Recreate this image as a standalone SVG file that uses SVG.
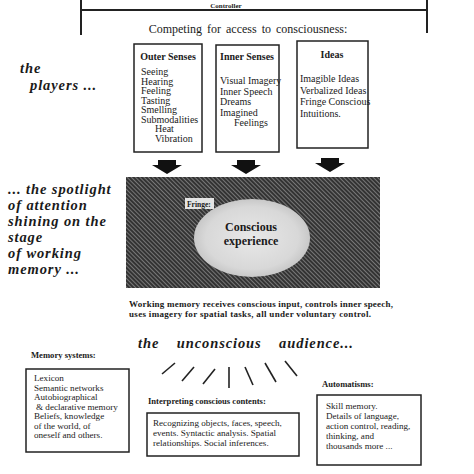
<svg xmlns="http://www.w3.org/2000/svg" width="474" height="474" viewBox="0 0 474 474">
<defs>
<style>
.s{font-family:"Liberation Serif","DejaVu Serif",serif;fill:#1a1a1a}
.b{font-weight:bold}
.bi{font-family:"Liberation Serif","DejaVu Serif",serif;font-weight:bold;font-style:italic;fill:#1a1a1a;font-size:14.5px;letter-spacing:0.9px}
.box{fill:#fff;stroke:#222;stroke-width:1.5}
.t9{font-size:10px}
.t8{font-size:9.1px}
.ray{stroke:#222;stroke-width:1.6;fill:none}
.arr{fill:#111}
</style>
<pattern id="hatch" width="3" height="3" patternUnits="userSpaceOnUse" patternTransform="rotate(-45)">
<rect width="3" height="3" fill="#333"/>
<rect width="1" height="3" fill="#777"/>
</pattern>
<radialGradient id="glow" cx="0.5" cy="0.5" r="0.5">
<stop offset="0" stop-color="#e8e8e8"/>
<stop offset="0.8" stop-color="#d8d8d8"/>
<stop offset="1" stop-color="#c8c8c8"/>
</radialGradient>
</defs>
<rect width="474" height="474" fill="#fff"/>

<g id="controller">
<path d="M81,0 V35 M81,10 H427 M427,0 V33" stroke="#222" stroke-width="2" fill="none"/>
<text class="s b" x="226" y="7.5" font-size="7" text-anchor="middle">Controller</text>
</g>

<g id="competing">
<text class="s" x="248" y="33" font-size="12" text-anchor="middle" word-spacing="2">Competing for access to consciousness:</text>
</g>

<g id="players-label">
<text class="bi" x="20" y="73">the</text>
<text class="bi" x="30" y="90">players ...</text>
</g>

<g id="outer-senses">
<rect class="box" x="134" y="44" width="68" height="108"/>
<text class="s b t9" x="168" y="60" text-anchor="middle">Outer Senses</text>
<text class="s t9" x="141" y="75">Seeing</text>
<text class="s t9" x="141" y="84.5">Hearing</text>
<text class="s t9" x="141" y="94">Feeling</text>
<text class="s t9" x="141" y="103.5">Tasting</text>
<text class="s t9" x="141" y="113">Smelling</text>
<text class="s t9" x="141" y="122.5">Submodalities</text>
<text class="s t9" x="155" y="132">Heat</text>
<text class="s t9" x="155" y="142">Vibration</text>
</g>

<g id="inner-senses">
<rect class="box" x="216" y="45" width="63" height="107"/>
<text class="s b t9" x="247" y="60" text-anchor="middle">Inner Senses</text>
<text class="s t9" x="220" y="84">Visual Imagery</text>
<text class="s t9" x="220" y="94.5">Inner Speech</text>
<text class="s t9" x="220" y="105">Dreams</text>
<text class="s t9" x="220" y="115.5">Imagined</text>
<text class="s t9" x="234" y="126">Feelings</text>
</g>

<g id="ideas">
<rect class="box" x="297" y="41" width="71" height="107"/>
<text class="s b t9" x="332" y="58" text-anchor="middle">Ideas</text>
<text class="s t9" x="300" y="82">Imagible Ideas</text>
<text class="s t9" x="300" y="93.5">Verbalized Ideas</text>
<text class="s t9" x="300" y="105">Fringe Conscious</text>
<text class="s t9" x="300" y="116.5">Intuitions.</text>
</g>

<g id="spotlight-label">
<text class="bi" x="8" y="194">... the spotlight</text>
<text class="bi" x="8" y="210">of attention</text>
<text class="bi" x="8" y="226">shining on the</text>
<text class="bi" x="8" y="242">stage</text>
<text class="bi" x="8" y="258">of working</text>
<text class="bi" x="8" y="274">memory ...</text>
</g>

<g id="working-memory">
<rect x="126" y="177" width="254" height="111" fill="url(#hatch)"/>
</g>

<g id="conscious-experience">
<ellipse cx="252" cy="238" rx="58" ry="39" fill="url(#glow)"/>
<text class="s b" x="251" y="231" font-size="12" text-anchor="middle">Conscious</text>
<text class="s b" x="251" y="245" font-size="12" text-anchor="middle">experience</text>
</g>

<g id="fringe">
<rect x="185" y="198" width="29" height="11" fill="#e4e4e4"/>
<text class="s b" x="187" y="206.5" font-size="7.5">Fringe:</text>
</g>

<g id="working-memory-caption">
<text class="s b" x="129" y="307" font-size="9" textLength="264" lengthAdjust="spacing">Working memory receives conscious input, controls inner speech,</text>
<text class="s b" x="129" y="316.5" font-size="9" textLength="242" lengthAdjust="spacing">uses imagery for spatial tasks, all under voluntary control.</text>
</g>

<g id="audience-label">
<text class="bi" x="138" y="348" word-spacing="13">the unconscious audience...</text>
</g>

<g id="memory-systems">
<text class="s b" x="31" y="358" font-size="8.6">Memory systems:</text>
<rect class="box" x="26" y="369" width="103" height="83"/>
<text class="s t8" x="34" y="381">Lexicon</text>
<text class="s t8" x="34" y="390.5">Semantic networks</text>
<text class="s t8" x="34" y="400">Autobiographical</text>
<text class="s t8" x="36" y="409.5">&amp; declarative memory</text>
<text class="s t8" x="34" y="419">Beliefs, knowledge</text>
<text class="s t8" x="34" y="428.5">of the world, of</text>
<text class="s t8" x="34" y="438">oneself and others.</text>
</g>

<g id="interpreting">
<text class="s b" x="148" y="404" font-size="8.6">Interpreting conscious contents:</text>
<rect class="box" x="147" y="413" width="152" height="43"/>
<text class="s t8" x="153" y="426">Recognizing objects, faces, speech,</text>
<text class="s t8" x="153" y="436">events.  Syntactic analysis. Spatial</text>
<text class="s t8" x="153" y="446">relationships. Social inferences.</text>
</g>

<g id="automatisms">
<text class="s b" x="322" y="387" font-size="8.6">Automatisms:</text>
<rect class="box" x="317" y="395" width="104" height="70"/>
<text class="s t8" x="326" y="409">Skill  memory.</text>
<text class="s t8" x="326" y="419">Details of language,</text>
<text class="s t8" x="326" y="429">action control, reading,</text>
<text class="s t8" x="326" y="439">thinking,  and</text>
<text class="s t8" x="326" y="448.5">thousands more ...</text>
</g>

<g id="connectors">
<path class="arr" d="M158,160 H176 V165 H182 L167,174 L152,165 H158 Z"/>
<path class="arr" d="M237,160 H255 V165 H261 L246,174 L231,165 H237 Z"/>
<path class="arr" d="M321,158 H339 V163 H345 L330,172 L315,163 H321 Z"/>
<line class="ray" x1="162" y1="374" x2="175" y2="363"/>
<line class="ray" x1="182" y1="381" x2="194" y2="367"/>
<line class="ray" x1="203" y1="384" x2="215" y2="369"/>
<line class="ray" x1="229" y1="367" x2="229" y2="388"/>
<line class="ray" x1="245" y1="367" x2="253" y2="385"/>
<line class="ray" x1="265" y1="363" x2="276" y2="382"/>
<line class="ray" x1="285" y1="361" x2="297" y2="376"/>
</g>
</svg>
